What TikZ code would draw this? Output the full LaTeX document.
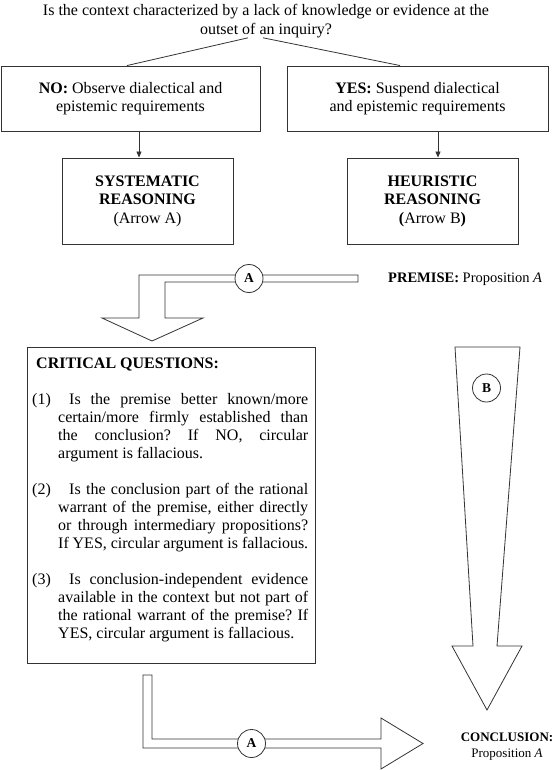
\documentclass[tikz,border=0pt]{standalone}
\usepackage{fontspec}
\setmainfont{Liberation Serif}
\usetikzlibrary{arrows.meta}
\definecolor{linec}{gray}{0.2}
\frenchspacing
\tikzset{
  box/.style={draw=linec, line width=0.9pt, inner sep=0pt, align=center},
  txt/.style={inner sep=0pt, align=center, font=\fontsize{16}{18.5}\selectfont},
  bigarrow/.style={draw=linec, line width=0.8pt, fill=white, line join=miter},
  tag/.style={circle, draw=linec, line width=0.8pt, fill=white, minimum size=28pt, inner sep=0pt, font=\fontsize{13.5}{13.5}\selectfont\bfseries},
  conn/.style={draw=linec, line width=0.9pt, -{Triangle[length=6pt,width=5pt]}},
  plain/.style={draw=linec, line width=0.8pt},
}
\begin{document}
\begin{tikzpicture}[x=1pt,y=-1pt]
\useasboundingbox (0,0) rectangle (553,770);
% question
\node[txt] (q) at (266,21) {Is the context characterized by a lack of knowledge or evidence at the\\outset of an inquiry?};
% first level boxes
\node[box, txt, minimum width=259pt, minimum height=65pt] (no) at (130.5,98.5) {\textbf{NO:} Observe dialectical and\\epistemic requirements};
\node[box, txt, minimum width=261pt, minimum height=65pt] (yes) at (417.5,98.5) {\textbf{YES:} Suspend dialectical\\and epistemic requirements};
\draw[plain] ([xshift=-18pt]q.south) -- ([xshift=-3.5pt]no.north);
\draw[plain] ([xshift=-3pt]q.south) -- ([xshift=-17.5pt]yes.north);
% second level boxes
\node[box, txt, minimum width=171pt, minimum height=86pt] (sys) at (147.5,201) {\textbf{SYSTEMATIC}\\\textbf{REASONING}\\(Arrow A)};
\node[box, txt, minimum width=171pt, minimum height=86pt] (heu) at (432.5,201) {\textbf{HEURISTIC}\\\textbf{REASONING}\\\textbf{(}Arrow B\textbf{)}};
\draw[conn] ([xshift=8.5pt]no.south) -- ([xshift=-8.5pt]sys.north);
\draw[conn] ([xshift=20.5pt]yes.south) -- ([xshift=5.5pt]heu.north);
% premise
\node[anchor=west, inner sep=0pt, font=\fontsize{14.5}{17}\selectfont] (premise) at (388,279) {\textbf{PREMISE:} Proposition \textit{A}};
% upper block arrow A
\draw[bigarrow] (358,275) -- (139,275) -- (139,318) -- (102,318) -- (152,341) -- (203,318) -- (165,318) -- (165,282) -- (358,282) -- cycle;
\node[tag] (tagA1) at (249,278.5) {A};
% critical questions box
\node[box, minimum width=288pt, minimum height=316pt] (cq) at (171,505) {};
\node[anchor=north west, inner sep=0pt, text width=276pt, align=justify, font=\fontsize{16}{18}\selectfont] (cqt) at (32,357.5) {%
\parskip=0pt\hbadness=10000\hfuzz=20pt\frenchspacing
\noindent\hspace*{4pt}\textbf{CRITICAL QUESTIONS:}\par
\vspace{18pt}
\noindent\hangindent=26pt\hangafter=1\makebox[37pt][l]{(1)}Is the premise better known/more\linebreak certain/more firmly established than\linebreak the conclusion? If NO, circular\linebreak argument is fallacious.\par
\vspace{18pt}
\noindent\hangindent=26pt\hangafter=1\makebox[37pt][l]{(2)}Is the conclusion part of the rational\linebreak warrant of the premise, either directly\linebreak or through intermediary propositions?\linebreak If YES, circular argument is fallacious.\par
\vspace{18pt}
\noindent\hangindent=26pt\hangafter=1\makebox[37pt][l]{(3)}Is conclusion-independent evidence\linebreak available in the context but not part of\linebreak the rational warrant of the premise? If\linebreak YES, circular argument is fallacious.\par};
% heuristic block arrow B
\draw[bigarrow] (455,347) -- (520,347) -- (497,646) -- (522,646) -- (487,710) -- (452,646) -- (473,646) -- cycle;
\node[tag] (tagB) at (486.5,388) {B};
% lower block arrow A
\draw[bigarrow] (143,675) -- (143,748) -- (381,748) -- (381,769) -- (423,743.5) -- (381,718) -- (381,739) -- (152,739) -- (152,675) -- cycle;
\node[tag] (tagA2) at (251.5,743.5) {A};
% conclusion
\node[align=center, inner sep=0pt, font=\fontsize{13}{16}\selectfont] (concl) at (507,747) {\textbf{CONCLUSION:}\\Proposition \textit{A}};
\end{tikzpicture}
\end{document}
